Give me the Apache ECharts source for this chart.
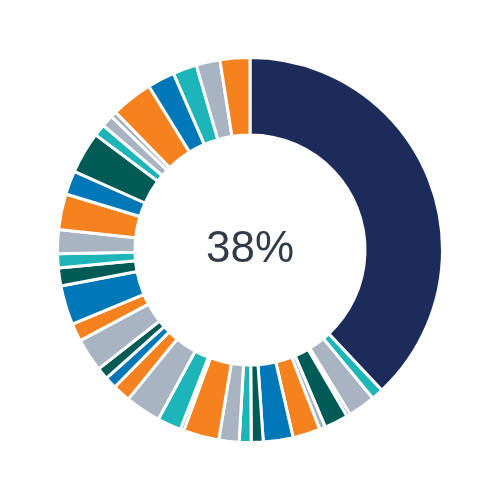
<!DOCTYPE html>
<html>
<head>
<meta charset="utf-8">
<script src="https://cdn.jsdelivr.net/npm/echarts@6/dist/echarts.min.js"></script>
<style>html,body{margin:0;background:#fff}#main{width:500px;height:500px}</style>
</head>
<body>
<div id="main"></div>
<script>
// 颜色
const palette = {
  N: '#1c2b5a', O: '#f5821f', G: '#a9b4c2', T: '#1db5b8', B: '#0077b6', D: '#005a55'
}
// 各扇区的值（百分比）及颜色代码，从顶部顺时针
const values = [38, 1, 2.3, 0.3, 2, 0.5, 2.3, 2.5, 1, 1, 1.7, 3, 0.3, 2, 3, 1.5, 1, 1, 2.8, 1.5, 3.3, 1.5, 1.2, 2, 3, 2, 3.5, 1, 1, 0.5, 3.5, 2.3, 2, 2, 2.5]
const colors = ['N', 'T', 'G', 'B', 'D', 'G', 'O', 'B', 'D', 'T', 'G', 'O', 'T', 'T', 'G', 'O', 'B', 'D', 'G', 'O', 'B', 'D', 'T', 'G', 'O', 'B', 'D', 'T', 'G', 'G', 'O', 'B', 'T', 'G', 'O']
const centerLabel = '38%'

const data = values.map((v, i) => ({ value: v, itemStyle: { color: palette[colors[i]] } }))
const myChart = echarts.init(document.getElementById('main'))
myChart.setOption({
  animation: false,
  title: {
    text: centerLabel, left: 'center', top: 'middle',
    textStyle: { fontSize: 44, fontWeight: 'normal', color: '#333c46', fontFamily: 'Liberation Sans' }
  },
  series: [{
    type: 'pie',
    radius: ['46%', '77%'],
    center: ['50%', '50%'],
    startAngle: 90,
    clockwise: true,
    label: { show: false },
    itemStyle: { borderColor: '#fff', borderWidth: 3 },
    data: data
  }]
})
</script>
</body>
</html>
